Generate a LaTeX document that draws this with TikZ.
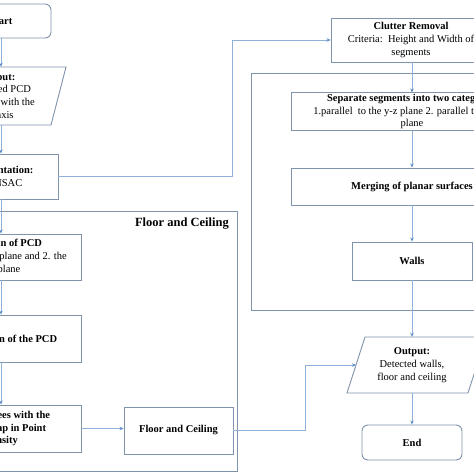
\documentclass[tikz,border=0pt]{standalone}
\usepackage{fontspec}
\setmainfont{Liberation Serif}
\usetikzlibrary{arrows.meta}
\definecolor{boxc}{HTML}{7F93AB}
\definecolor{linec}{HTML}{8FB0D8}
\definecolor{tipc}{HTML}{5E8FC8}
\tikzset{
  box/.style={draw=boxc, line width=0.9pt, rectangle, align=center, inner sep=1pt, font=\fontsize{10.5}{12.8}\selectfont},
  rbox/.style={box, rounded corners=6pt},
  txt/.style={align=center, inner sep=0pt, font=\fontsize{10.5}{12.8}\selectfont},
  frame/.style={draw=boxc, line width=0.9pt},
  conn/.style={draw=linec, line width=0.8pt, -{Stealth[length=4pt,width=3.5pt,color=tipc]}},
}
\begin{document}
\begin{tikzpicture}[x=1pt,y=-1pt]
\useasboundingbox (0,0) rectangle (474,474);
\clip (0,0) rectangle (474,474);
\fill[white] (0,0) rectangle (474,474);

% frames
\draw[frame] (-240,211) rectangle (237,471);
\node[anchor=east, inner sep=0pt, font=\fontsize{12.5}{14}\selectfont\bfseries] (fctitle) at (229,224) {Floor and Ceiling};
\draw[frame] (251,73) rectangle (573,310);

% left column
\node[rbox, minimum width=100pt, minimum height=34pt] (start) at (1,21) {\textbf{Start}};

\draw[frame] (-49,67) -- (66,67) -- (51,125) -- (-64,125) -- cycle;
\node[txt, minimum width=115pt, minimum height=58pt] (input) at (1,96) {\textbf{Input:}\\Levelled PCD\\aligned with the\\z-axis};

\node[box, minimum width=114pt, minimum height=45pt] (seg) at (1,176.5) {\textbf{Segmentation:}\\RANSAC};

\node[box, minimum width=160pt, minimum height=46pt] (proj) at (1,257) {\textbf{Projection of PCD}\\1. onto the x-z plane and 2. the\\y-z plane};
\node[box, minimum width=160pt, minimum height=47pt] (rast) at (1,338.5) {\textbf{Rasterization of the PCD}};
\node[box, minimum width=160pt, minimum height=47pt, font=\fontsize{10.5}{12.8}\selectfont\bfseries] (leap) at (1,428.5) {Find Degrees with the\\Large Leap in Point\\Density};
\node[box, minimum width=109pt, minimum height=47pt] (fc) at (178.5,430.5) {\textbf{Floor and Ceiling}};

% right column
\node[box, minimum width=160pt, minimum height=44pt] (clutter) at (411,40) {\textbf{Clutter Removal}\\Criteria:\ \ Height and Width of\\segments};
\node[box, minimum width=242pt, minimum height=37pt] (sep) at (412,111.5) {\textbf{Separate segments into two categories}\\1.parallel\ \ to the y-z plane 2. parallel to the x-z\\plane};
\node[box, minimum width=242pt, minimum height=37pt] (merge) at (412,186.5) {\textbf{Merging of planar surfaces}};
\node[box, minimum width=120pt, minimum height=38pt] (walls) at (412,261) {\textbf{Walls}};

\draw[frame] (365,337) -- (486,337) -- (468,393) -- (347,393) -- cycle;
\node[txt, minimum width=112pt, minimum height=56pt] (output) at (412,365) {\textbf{Output:}\\Detected walls,\\floor and ceiling};

\node[rbox, minimum width=100pt, minimum height=35pt] (end) at (412,442.5) {\textbf{End}};

% connectors
\draw[conn] (start.south) -- (start.south |- input.north);
\draw[conn] (start.south |- input.south) -- (seg.north);
\draw[conn] (seg.south) -- (proj.north);
\draw[conn] (proj.south) -- (rast.north);
\draw[conn] (rast.south) -- (leap.north);
\draw[conn] (leap.east) -- (leap.east -| fc.west);
\coordinate (c1) at (232,176.5);
\coordinate (c2) at (232,40);
\draw[conn] (seg.east) -- (c1) -- (c2) -- (clutter.west);
\draw[conn] (clutter.south -| sep.north) -- (sep.north);
\draw[conn] (sep.south) -- (merge.north);
\draw[conn] (merge.south) -- (walls.north);
\draw[conn] (walls.south) -- (output.north);
\draw[conn] (output.south) -- (end.north);
\coordinate (c3) at (305,430.5);
\coordinate (c4) at (305,365);
\draw[conn] (fc.east) -- (c3) -- (c4) -- (356,365);
\end{tikzpicture}
\end{document}
